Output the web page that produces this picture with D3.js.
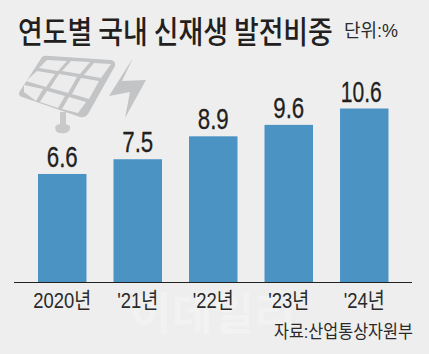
<!DOCTYPE html>
<html><head><meta charset="utf-8">
<script src="https://cdn.jsdelivr.net/npm/d3@7"></script>
<style>html,body{margin:0;padding:0;background:#eeeeee}svg{display:block}
text{font-family:"Liberation Sans","Noto Sans CJK KR",sans-serif}</style></head>
<body><svg id="c" width="429" height="354"></svg>
<script>
const categories=["2020년","'21년","'22년","'23년","'24년"];
const values=[6.6,7.5,8.9,9.6,10.6];
const valueLabels=["6.6","7.5","8.9","9.6","10.6"];
const title="연도별 국내 신재생 발전비중";
const unit="단위:%";
const source="자료:산업통상자원부";
const watermark="이데일리";

const svg=d3.select("#c");
svg.append("rect").attr("width",429).attr("height",354).attr("fill","#eeeeee");

const x=d3.scaleBand().domain(categories).range([38,388.5]).paddingInner(0.358).paddingOuter(0);
const y=d3.scaleLinear().domain([0,10.6]).range([282,108.5]);

// squeeze a text horizontally to a given width, keeping its left edge or centre
function place(sel,px,py,w){
  sel.each(function(){
    const s=w/this.getComputedTextLength();
    d3.select(this).attr("transform",`translate(${px},${py}) scale(${s},1)`);
  });
  return sel;
}

// watermark
place(svg.append("text").attr("text-anchor","middle")
  .attr("font-size",44).attr("font-weight",700).attr("fill","#f2f2f2")
  .style("font-family","'Noto Sans CJK KR'").text(watermark),213,330,165);

// title + unit
place(svg.append("text").attr("font-size",31).attr("font-weight",500)
  .style("font-family","'Noto Sans CJK KR'").attr("fill","#231f20").text(title),18,43,315);
place(svg.append("text").attr("font-size",18.5).attr("fill","#2a2a2a").text(unit),344,37,54);

// solar panel icon
const ic=svg.append("g").attr("fill","#c3c4c6");
ic.append("path").attr("d","M60 112 L60 124 Q53 125 56 131 Q58 134 66 133 Q71 131 70 126 L66 124 L66 112 Z").attr("fill","#c9c9cb");
ic.append("path").attr("d","M42 57 Q44 55 50 56 L111 60 Q116 61 115 66 L88 114 Q85 118 80 117 L22 97 Q17 95 20 91 Z");
const panel=ic.append("g").attr("fill","#ececec");
[["M47 60 L67 61 L58 71 L39 68Z"],["M71 61 L90 62 L80 74 L62 71Z"],["M94 63 L111 64 L101 78 L84 75Z"],
 ["M37 71 L55 74 L46 87 L26 81Z"],["M59 74 L77 77 L68 93 L50 88Z"],["M81 78 L99 81 L89 99 L72 94Z"],
 ["M24 85 L43 89 L36 101 L24 92Z"],["M47 91 L65 96 L58 108 L40 102Z"],["M69 97 L86 102 L78 113 L62 109Z"]]
 .forEach(d=>panel.append("path").attr("d",d[0]));
ic.append("path").attr("d","M133 58 L122 81 L146 80 L125 118 L130 92 L109 96 Z").attr("fill","#c3c4c6");

// bars
svg.selectAll("rect.bar").data(values).join("rect").attr("class","bar")
  .attr("x",(d,i)=>x(categories[i])).attr("width",x.bandwidth())
  .attr("y",d=>y(d)).attr("height",d=>y(0)-y(d)).attr("fill","#4a93c3");

// value labels
svg.selectAll("text.val").data(values).join("text").attr("class","val")
  .attr("text-anchor","middle").attr("font-size",29).attr("fill","#231f20")
  .attr("stroke","#231f20").attr("stroke-width",0.3)
  .text((d,i)=>valueLabels[i])
  .each(function(d,i){
    place(d3.select(this),x(categories[i])+x.bandwidth()/2-(i==4?3:0),y(d)-7,valueLabels[i].length>3?41:31);
  });

// axis
const axis=d3.axisBottom(x).tickSize(0).tickPadding(7);
const ax=svg.append("g").attr("transform","translate(0,282)").call(axis);
ax.select(".domain").remove();
svg.append("line").attr("x1",14).attr("x2",412).attr("y1",282.5).attr("y2",282.5).attr("stroke","#222").attr("stroke-width",1);
ax.selectAll("text").attr("font-size",22).attr("fill","#2a2a2a")
  .style("font-family","'Liberation Sans','Noto Sans CJK KR',sans-serif").attr("dy",null).attr("y",null)
  .each(function(d,i){ place(d3.select(this),0,26,i==0?58:41); });

// source
place(svg.append("text").attr("font-size",18).attr("fill","#2a2a2a").text(source),274,338,139);
</script></body></html>
